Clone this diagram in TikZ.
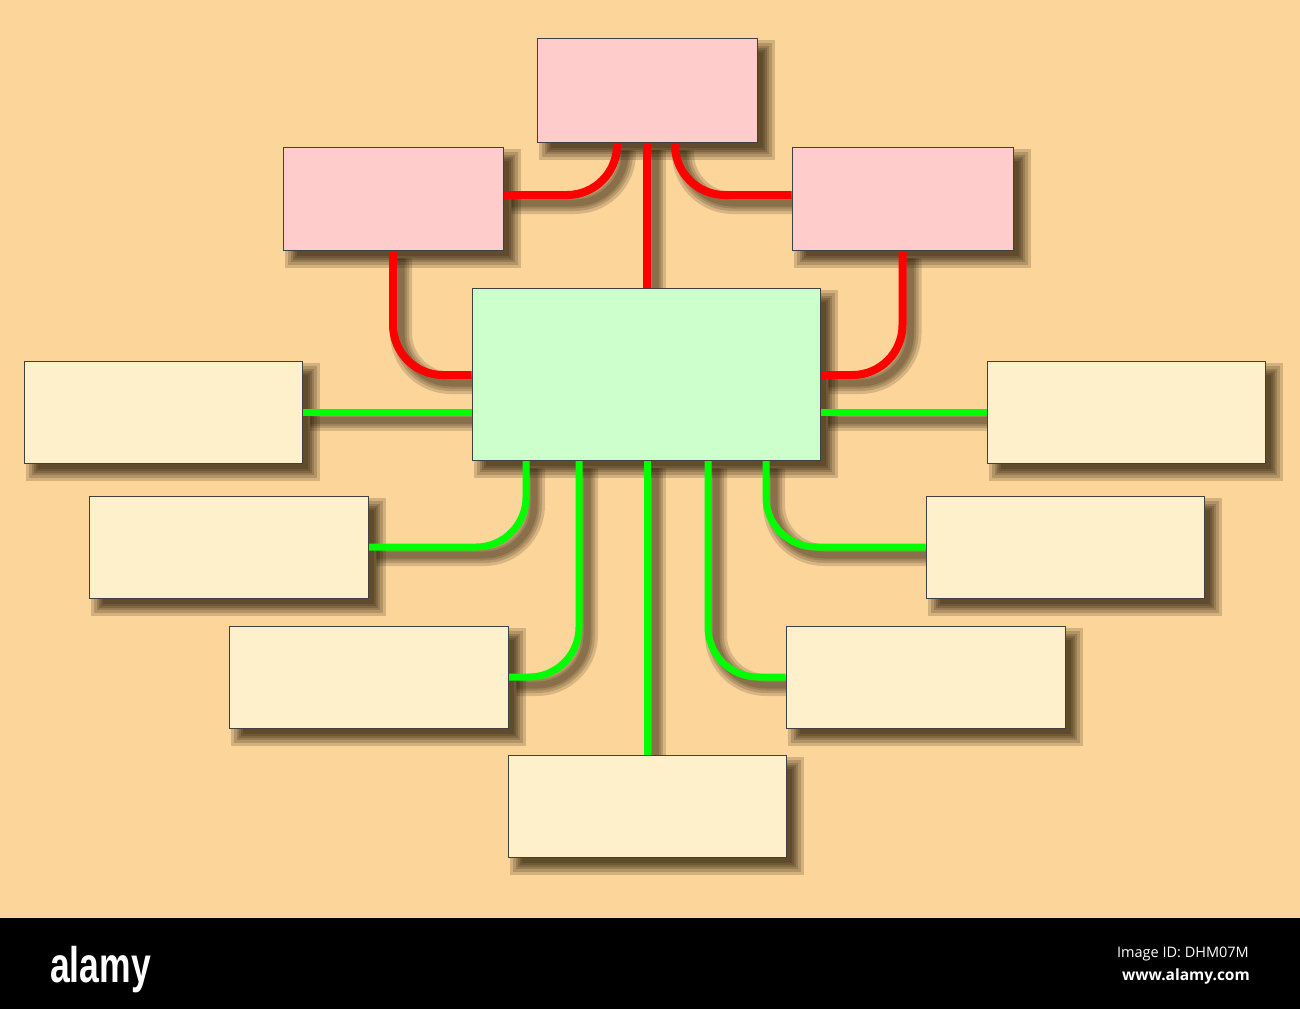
\documentclass[tikz,border=0pt]{standalone}
\usepackage{fontspec}
\setmainfont{Liberation Sans}
\newfontfamily\footfont{Open Sans}
\usetikzlibrary{calc}
\definecolor{bg}{HTML}{FCD59B}
\definecolor{pinkbox}{HTML}{FFCCCC}
\definecolor{greenbox}{HTML}{CCFFCC}
\definecolor{creambox}{HTML}{FFF0CC}
\definecolor{redline}{HTML}{FF0000}
\definecolor{greenline}{HTML}{00FF00}
\definecolor{shadowc}{HTML}{241704}
\pgfdeclarelayer{bgl}\pgfdeclarelayer{shadow}\pgfdeclarelayer{lines}
\pgfsetlayers{bgl,shadow,lines,main}
\newcommand\mylink[3]{%
  \begin{pgfonlayer}{lines}\draw[#1, line width=#2, rounded corners=50pt] #3;\end{pgfonlayer}%
  \begin{pgfonlayer}{shadow}
  \foreach \w in {22,16,11,7}{
  \draw[shadowc, opacity=0.17, line width=\w pt, rounded corners=50pt, transform canvas={shift={(8pt,-8pt)}}] #3;}
  \end{pgfonlayer}}
\begin{document}
\begin{tikzpicture}[x=1pt,y=-1pt,
  box/.style={draw=black!75, line width=0.6pt, inner sep=0pt},
  pinkb/.style={box, fill=pinkbox, minimum width=220pt, minimum height=103pt},
  greenb/.style={box, fill=greenbox, minimum width=348pt, minimum height=172pt},
  creamb/.style={box, fill=creambox, minimum width=278pt, minimum height=102pt},
  footer/.style={text=white, inner sep=0pt}]
\useasboundingbox (0,0) rectangle (1300,1009);
\begin{pgfonlayer}{bgl}
  \fill[bg] (0,0) rectangle (1300,918);
  \fill[black] (0,918) rectangle (1300,1009);
\end{pgfonlayer}

\node[pinkb, minimum height=104pt] (top) at (647,90) {};
\node[pinkb] (lp) at (393,198.5) {};
\node[pinkb, minimum width=221pt] (rp) at (902.5,198.5) {};
\node[greenb] (ctr) at (646,374) {};
\node[creamb] (l1) at (163,412) {};
\node[creamb, minimum width=279pt] (l2) at (228.5,547) {};
\node[creamb, minimum width=279pt] (l3) at (368.5,677) {};
\node[creamb] (bot) at (647,806) {};
\node[creamb] (r1) at (1126,412) {};
\node[creamb] (r2) at (1065,547) {};
\node[creamb, minimum width=279pt] (r3) at (925.5,677) {};

\begin{pgfonlayer}{shadow}
\foreach \n in {top,lp,rp,ctr,l1,l2,l3,bot,r1,r2,r3}{
  \foreach \e in {8,5,2,0,-2,-4}{
    \fill[shadowc, opacity=0.19]
      ([shift={(10-\e,10-\e)}]\n.north west) rectangle ([shift={(10+\e,10+\e)}]\n.south east);
  }
}
\end{pgfonlayer}

% red connectors
\mylink{redline}{8pt}{(top.south) -- (ctr.north -| top.south)}
\mylink{redline}{8pt}{($(top.south)+(-30,0)$) |- ($(lp.east)+(0,-3.5)$)}
\mylink{redline}{8pt}{($(top.south)+(28,0)$) |- ($(rp.west)+(0,-3.5)$)}
\mylink{redline}{8pt}{(lp.south) |- ($(ctr.west)+(0,1)$)}
\mylink{redline}{8pt}{(rp.south) |- ($(ctr.east)+(0,1)$)}
% green connectors
\mylink{greenline}{7pt}{(l1.east) -- (ctr.west |- l1.east)}
\mylink{greenline}{7pt}{(r1.west) -- (ctr.east |- r1.west)}
\mylink{greenline}{7pt}{($(ctr.south)+(-120,0)$) |- (l2.east)}
\mylink{greenline}{7pt}{($(ctr.south)+(-67,0)$) |- (l3.east)}
\mylink{greenline}{7pt}{(ctr.south -| bot.north) -- (bot.north)}
\mylink{greenline}{7pt}{($(ctr.south)+(62,0)$) |- (r3.west)}
\mylink{greenline}{7pt}{($(ctr.south)+(120,0)$) |- (r2.west)}

% footer
\node[footer, anchor=base west, xscale=0.71, font=\bfseries\fontsize{50}{50}\selectfont] (logo) at (50,982) {alamy};
\node[footer, anchor=base east, font=\footfont\fontsize{14.5}{14.5}\selectfont] (code) at (1249,957) {Image ID: DHM07M};
\node[footer, anchor=base east, font=\footfont\bfseries\fontsize{15.5}{15.5}\selectfont] (url) at (1250,980) {www.alamy.com};
\end{tikzpicture}
\end{document}
